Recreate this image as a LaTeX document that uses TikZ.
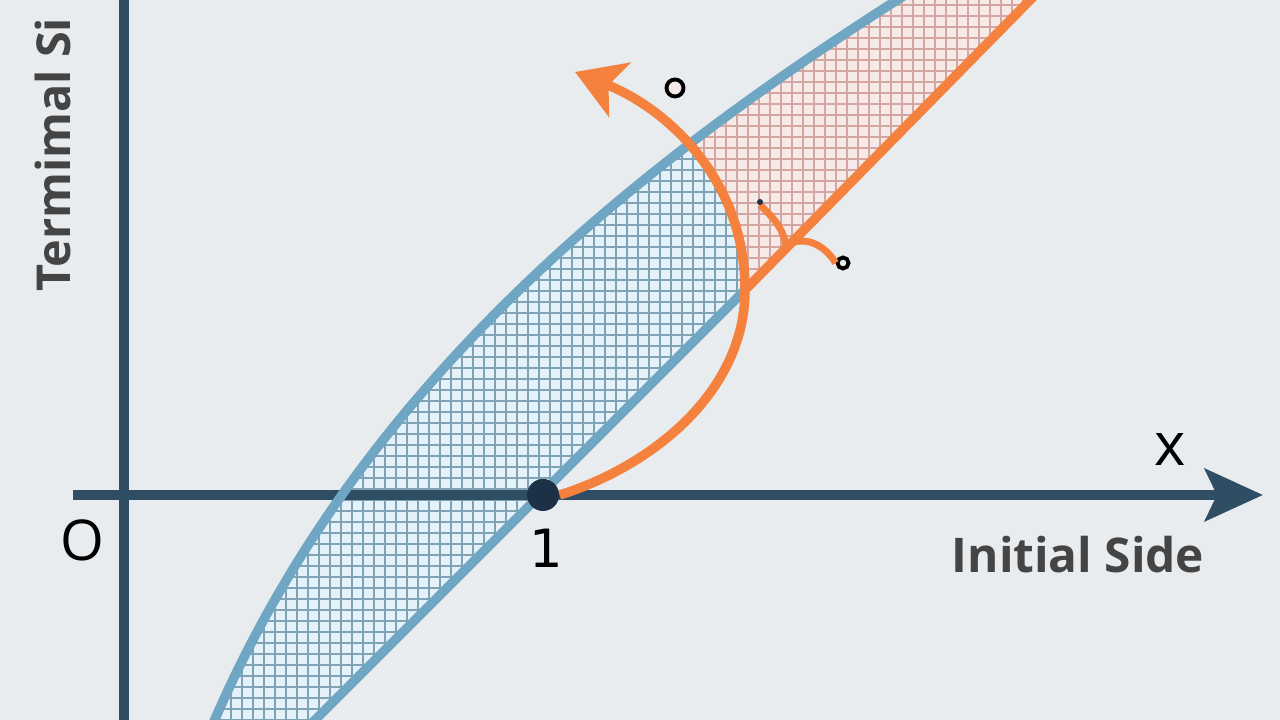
\documentclass[tikz,border=0pt]{standalone}
\usepackage{fontspec}
\setmainfont{Open Sans}
\newfontfamily\digitfont{DejaVu Sans}
\usetikzlibrary{arrows.meta}
\definecolor{bgcol}{HTML}{E9ECEF}
\definecolor{axiscol}{HTML}{2F4E63}
\definecolor{bluecol}{HTML}{6EA6C3}
\definecolor{orangecol}{HTML}{F5813F}
\definecolor{dotcol}{HTML}{1C3146}
\definecolor{labelgray}{HTML}{444444}
\definecolor{meshbluefill}{HTML}{E5F1F8}
\definecolor{meshblueline}{HTML}{7FA3B5}
\definecolor{meshorangefill}{HTML}{F5EAE7}
\definecolor{meshorangeline}{HTML}{D3A6A2}
\tikzset{
  axisline/.style={draw=axiscol, line width=3pt},
  sideline/.style={draw=bluecol, line width=2.7pt},
  turnline/.style={draw=orangecol, line width=2.7pt},
  meshblue/.style={draw=meshblueline, line width=0.35pt},
  meshorange/.style={draw=meshorangeline, line width=0.35pt},
  bigtext/.style={font=\fontsize{16}{16}\selectfont},
  sidetext/.style={font=\bfseries\fontsize{13.6}{13.6}\selectfont, text=labelgray, inner sep=0pt}
}
\begin{document}
\begin{tikzpicture}
  \fill[bgcol] (0,0) rectangle (12.8,7.2);
  \useasboundingbox (0,0) rectangle (12.8,7.2);
  \coordinate (apex) at (7.45,4.30);
  \coordinate (tip) at (5.75,6.48);
  \begin{scope}
    \clip (2.15,0) .. controls (3.6,3.4) and (6.45,5.6) .. (9.05,7.25)
      -- (10.35,7.25) -- (3.15,0) -- cycle;
    \fill[meshbluefill] (0,0) rectangle (12.8,7.2);
    \draw[meshblue, step=0.11] (0,0) grid (12.8,7.2);
    \clip (apex) .. controls (7.45,5.4) and (6.68,6.11) .. (tip)
      -- (5.75,7.3) -- (12.8,7.3) -- (12.8,4.30) -- cycle;
    \fill[meshorangefill] (0,0) rectangle (12.8,7.2);
    \draw[meshorange, step=0.11] (0,0) grid (12.8,7.2);
  \end{scope}
  \coordinate (xstart) at (0.73,2.25);
  \coordinate (xend) at (12.63,2.25);
  \coordinate (ytop) at (1.24,7.25);
  \coordinate (ybottom) at (1.24,-0.05);
  \draw[axisline] (ybottom) -- (ytop);
  \draw[axisline, -{Stealth[length=0.58cm, width=0.52cm, inset=0.12cm]}] (xstart) -- (xend);
  \draw[sideline] (2.12,-0.06) .. controls (3.6,3.4) and (6.45,5.6) .. (9.05,7.25);
  \draw[sideline] (3.09,-0.06) -- (apex);
  \node[circle, fill=dotcol, minimum size=0.32cm, inner sep=0pt] (pone) at (5.43,2.25) {};
  \draw[turnline] (apex) -- (10.36,7.26);
  \draw[turnline, -{Stealth[length=0.48cm, width=0.58cm, inset=0.12cm]}]
    (pone.east) .. controls (6.55,2.55) and (7.45,3.3) .. (apex)
    .. controls (7.45,5.4) and (6.68,6.11) .. (tip);
  \node[circle, draw=black, fill=meshorangefill, line width=1.1pt, minimum size=0.17cm, inner sep=0pt] (topring) at (6.75,6.32) {};
  \node[circle, draw=black, line width=1.1pt, minimum size=0.11cm, inner sep=0pt] (sidering) at (8.43,4.57) {};
  \coordinate (fork) at (7.86,4.75);
  \draw[orangecol, line width=2pt] (fork) .. controls (7.82,4.95) and (7.70,5.05) .. (7.60,5.15);
  \draw[orangecol, line width=2pt] (fork) .. controls (8.05,4.85) and (8.25,4.75) .. (sidering.west);
  \fill[dotcol] (7.60,5.18) circle (0.03);
  \node[bigtext] (olabel) at (0.82,1.80) {O};
  \node[font=\digitfont\fontsize{15}{15}\selectfont] (onelabel) at (5.46,1.72) {1};
  \node[font=\fontsize{17}{17}\selectfont] (xlabel) at (11.70,2.70) {x};
  \node[sidetext] (initial) at (10.78,1.65) {Initial Side};
  \node[sidetext, font=\bfseries\fontsize{13.3}{13.3}\selectfont, rotate=90, anchor=west] (terminal) at (0.53,4.28) {Termimal Si};
\end{tikzpicture}
\end{document}
